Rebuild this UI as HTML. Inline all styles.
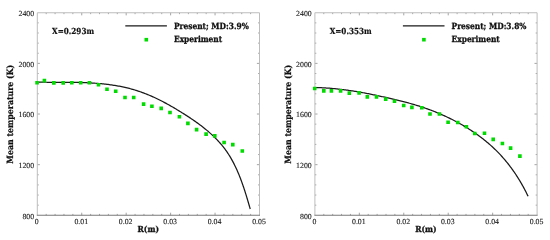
<!DOCTYPE html>
<html><head><meta charset="utf-8"><title>Mean temperature profiles</title>
<style>html,body{margin:0;padding:0;background:#fff;width:550px;height:240px;overflow:hidden}svg{display:block;text-rendering:geometricPrecision}</style>
</head><body>
<svg width="550" height="240" viewBox="0 0 550 240">
<rect width="100%" height="100%" fill="#fff"/>
<path d="M46.19,215.30V213.90M46.19,12.75V14.15M55.08,215.30V213.90M55.08,12.75V14.15M63.96,215.30V213.90M63.96,12.75V14.15M72.85,215.30V213.90M72.85,12.75V14.15M81.74,215.30V212.70M81.74,12.75V15.35M90.63,215.30V213.90M90.63,12.75V14.15M99.52,215.30V213.90M99.52,12.75V14.15M108.40,215.30V213.90M108.40,12.75V14.15M117.29,215.30V213.90M117.29,12.75V14.15M126.18,215.30V212.70M126.18,12.75V15.35M135.07,215.30V213.90M135.07,12.75V14.15M143.96,215.30V213.90M143.96,12.75V14.15M152.84,215.30V213.90M152.84,12.75V14.15M161.73,215.30V213.90M161.73,12.75V14.15M170.62,215.30V212.70M170.62,12.75V15.35M179.51,215.30V213.90M179.51,12.75V14.15M188.40,215.30V213.90M188.40,12.75V14.15M197.28,215.30V213.90M197.28,12.75V14.15M206.17,215.30V213.90M206.17,12.75V14.15M215.06,215.30V212.70M215.06,12.75V15.35M223.95,215.30V213.90M223.95,12.75V14.15M232.84,215.30V213.90M232.84,12.75V14.15M241.72,215.30V213.90M241.72,12.75V14.15M250.61,215.30V213.90M250.61,12.75V14.15M37.30,205.17H38.70M259.50,205.17H258.10M37.30,195.05H38.70M259.50,195.05H258.10M37.30,184.92H38.70M259.50,184.92H258.10M37.30,174.79H38.70M259.50,174.79H258.10M37.30,164.66H39.90M259.50,164.66H256.90M37.30,154.54H38.70M259.50,154.54H258.10M37.30,144.41H38.70M259.50,144.41H258.10M37.30,134.28H38.70M259.50,134.28H258.10M37.30,124.15H38.70M259.50,124.15H258.10M37.30,114.03H39.90M259.50,114.03H256.90M37.30,103.90H38.70M259.50,103.90H258.10M37.30,93.77H38.70M259.50,93.77H258.10M37.30,83.64H38.70M259.50,83.64H258.10M37.30,73.52H38.70M259.50,73.52H258.10M37.30,63.39H39.90M259.50,63.39H256.90M37.30,53.26H38.70M259.50,53.26H258.10M37.30,43.13H38.70M259.50,43.13H258.10M37.30,33.01H38.70M259.50,33.01H258.10M37.30,22.88H38.70M259.50,22.88H258.10" stroke="#9a9a9a" stroke-width="0.9" fill="none"/>
<path d="M37.30,215.30V12.75H259.50V215.30" stroke="#bdbdbd" stroke-width="1" fill="none"/>
<path d="M36.80,215.30H260.00" stroke="#7a7a7a" stroke-width="1.1" fill="none"/>
<text x="34.10" y="218.50" text-anchor="end" style="font-family:'Liberation Serif',serif;font-size:7.8px;fill:#1a1a1a;stroke:#1a1a1a;stroke-width:0.12px">800</text>
<text x="34.10" y="167.86" text-anchor="end" style="font-family:'Liberation Serif',serif;font-size:7.8px;fill:#1a1a1a;stroke:#1a1a1a;stroke-width:0.12px">1200</text>
<text x="34.10" y="117.23" text-anchor="end" style="font-family:'Liberation Serif',serif;font-size:7.8px;fill:#1a1a1a;stroke:#1a1a1a;stroke-width:0.12px">1600</text>
<text x="34.10" y="66.59" text-anchor="end" style="font-family:'Liberation Serif',serif;font-size:7.8px;fill:#1a1a1a;stroke:#1a1a1a;stroke-width:0.12px">2000</text>
<text x="34.10" y="15.95" text-anchor="end" style="font-family:'Liberation Serif',serif;font-size:7.8px;fill:#1a1a1a;stroke:#1a1a1a;stroke-width:0.12px">2400</text>
<text x="36.80" y="223.60" text-anchor="middle" style="font-family:'Liberation Serif',serif;font-size:7.8px;fill:#1a1a1a;stroke:#1a1a1a;stroke-width:0.12px">0</text>
<text x="81.24" y="223.60" text-anchor="middle" style="font-family:'Liberation Serif',serif;font-size:7.8px;fill:#1a1a1a;stroke:#1a1a1a;stroke-width:0.12px">0.01</text>
<text x="125.68" y="223.60" text-anchor="middle" style="font-family:'Liberation Serif',serif;font-size:7.8px;fill:#1a1a1a;stroke:#1a1a1a;stroke-width:0.12px">0.02</text>
<text x="170.12" y="223.60" text-anchor="middle" style="font-family:'Liberation Serif',serif;font-size:7.8px;fill:#1a1a1a;stroke:#1a1a1a;stroke-width:0.12px">0.03</text>
<text x="214.56" y="223.60" text-anchor="middle" style="font-family:'Liberation Serif',serif;font-size:7.8px;fill:#1a1a1a;stroke:#1a1a1a;stroke-width:0.12px">0.04</text>
<text x="259.00" y="223.60" text-anchor="middle" style="font-family:'Liberation Serif',serif;font-size:7.8px;fill:#1a1a1a;stroke:#1a1a1a;stroke-width:0.12px">0.05</text>
<path d="M37.40,82.12 L38.52,82.15 L39.64,82.17 L40.76,82.19 L41.88,82.20 L43.01,82.21 L44.14,82.23 L45.26,82.24 L46.39,82.25 L47.52,82.25 L48.66,82.26 L49.79,82.27 L50.92,82.27 L52.06,82.27 L53.20,82.28 L54.33,82.28 L55.47,82.28 L56.61,82.29 L57.75,82.29 L58.89,82.29 L60.04,82.29 L61.18,82.29 L62.32,82.30 L63.47,82.30 L64.61,82.31 L65.76,82.31 L66.90,82.32 L68.05,82.33 L69.20,82.34 L70.35,82.35 L71.49,82.36 L72.64,82.37 L73.79,82.39 L74.94,82.41 L76.09,82.43 L77.24,82.45 L78.39,82.48 L79.53,82.50 L80.68,82.53 L81.83,82.57 L82.98,82.60 L84.13,82.64 L85.28,82.69 L86.43,82.73 L87.57,82.78 L88.72,82.84 L89.87,82.90 L91.01,82.96 L92.16,83.02 L93.30,83.09 L94.45,83.17 L95.59,83.25 L96.74,83.33 L97.88,83.42 L99.02,83.52 L100.16,83.61 L101.30,83.72 L102.44,83.83 L103.58,83.94 L104.71,84.07 L105.85,84.19 L106.98,84.33 L108.12,84.47 L109.25,84.61 L110.38,84.76 L111.51,84.92 L112.64,85.09 L113.76,85.26 L114.89,85.44 L116.01,85.62 L117.13,85.82 L118.25,86.02 L119.37,86.23 L120.49,86.44 L121.60,86.67 L122.72,86.90 L123.83,87.14 L124.94,87.39 L126.04,87.65 L127.15,87.91 L128.25,88.19 L129.35,88.47 L130.45,88.76 L131.55,89.06 L132.64,89.37 L133.74,89.69 L134.83,90.02 L135.91,90.35 L137.00,90.70 L138.08,91.05 L139.16,91.41 L140.24,91.78 L141.31,92.16 L142.38,92.55 L143.45,92.94 L144.52,93.34 L145.58,93.75 L146.64,94.17 L147.70,94.59 L148.75,95.02 L149.80,95.46 L150.85,95.91 L151.89,96.36 L152.93,96.83 L153.97,97.29 L155.00,97.77 L156.03,98.25 L157.05,98.74 L158.08,99.23 L159.10,99.73 L160.11,100.24 L161.13,100.75 L162.14,101.27 L163.15,101.80 L164.15,102.33 L165.15,102.86 L166.15,103.41 L167.15,103.95 L168.15,104.50 L169.14,105.06 L170.13,105.62 L171.12,106.19 L172.11,106.76 L173.10,107.33 L174.08,107.91 L175.07,108.49 L176.05,109.08 L177.03,109.67 L178.01,110.26 L178.99,110.86 L179.97,111.46 L180.95,112.06 L181.92,112.67 L182.90,113.27 L183.87,113.89 L184.84,114.50 L185.82,115.12 L186.78,115.75 L187.75,116.37 L188.72,117.00 L189.68,117.64 L190.64,118.28 L191.59,118.92 L192.55,119.57 L193.50,120.22 L194.45,120.88 L195.39,121.54 L196.33,122.21 L197.26,122.88 L198.19,123.55 L199.12,124.23 L200.04,124.92 L200.96,125.61 L201.87,126.31 L202.78,127.01 L203.68,127.72 L204.57,128.43 L205.46,129.15 L206.34,129.88 L207.22,130.61 L208.09,131.35 L208.95,132.10 L209.81,132.85 L210.66,133.60 L211.50,134.37 L212.34,135.14 L213.16,135.92 L213.98,136.70 L214.79,137.49 L215.59,138.29 L216.39,139.10 L217.17,139.91 L217.95,140.74 L218.71,141.56 L219.47,142.40 L220.22,143.25 L220.96,144.10 L221.69,144.96 L222.40,145.83 L223.11,146.71 L223.81,147.59 L224.50,148.49 L225.17,149.39 L225.84,150.30 L226.49,151.22 L227.13,152.15 L227.76,153.09 L228.38,154.03 L228.99,154.99 L229.59,155.95 L230.18,156.92 L230.76,157.89 L231.33,158.88 L231.89,159.87 L232.43,160.86 L232.98,161.87 L233.51,162.88 L234.03,163.89 L234.54,164.91 L235.05,165.94 L235.54,166.97 L236.03,168.01 L236.51,169.05 L236.98,170.09 L237.45,171.14 L237.91,172.20 L238.35,173.26 L238.80,174.32 L239.23,175.39 L239.66,176.46 L240.08,177.53 L240.50,178.60 L240.91,179.68 L241.31,180.76 L241.71,181.85 L242.10,182.93 L242.48,184.02 L242.86,185.11 L243.24,186.20 L243.61,187.29 L243.98,188.38 L244.34,189.47 L244.69,190.56 L245.04,191.66 L245.39,192.75 L245.73,193.84 L246.07,194.93 L246.41,196.03 L246.74,197.12 L247.07,198.21 L247.40,199.30 L247.72,200.38 L248.04,201.47 L248.36,202.55 L248.68,203.63 L248.99,204.71 L249.30,205.79 L249.61,206.86 L249.92,207.94 L250.23,209.00" stroke="#1a1a1a" stroke-width="1.25" fill="none" stroke-linejoin="round"/>
<path d="M35.25,80.90h3.60v3.60h-3.60zM42.60,78.80h3.60v3.60h-3.60zM52.05,81.10h3.60v3.60h-3.60zM61.40,81.10h3.60v3.60h-3.60zM70.00,81.00h3.60v3.60h-3.60zM78.90,81.00h3.60v3.60h-3.60zM87.60,81.00h3.60v3.60h-3.60zM96.70,82.90h3.60v3.60h-3.60zM105.20,87.40h3.60v3.60h-3.60zM113.90,89.50h3.60v3.60h-3.60zM123.20,95.70h3.60v3.60h-3.60zM131.90,95.70h3.60v3.60h-3.60zM141.80,102.30h3.60v3.60h-3.60zM150.10,104.50h3.60v3.60h-3.60zM159.40,106.60h3.60v3.60h-3.60zM168.20,110.70h3.60v3.60h-3.60zM177.60,115.00h3.60v3.60h-3.60zM186.10,121.60h3.60v3.60h-3.60zM194.80,127.80h3.60v3.60h-3.60zM204.30,132.30h3.60v3.60h-3.60zM213.00,134.10h3.60v3.60h-3.60zM222.30,140.70h3.60v3.60h-3.60zM231.00,142.80h3.60v3.60h-3.60zM240.50,149.20h3.60v3.60h-3.60z" fill="#00dc00"/>
<text x="148.30" y="232.20" text-anchor="middle" style="font-family:'DejaVu Serif','Liberation Serif',serif;font-weight:bold;fill:#111;stroke:#111;stroke-width:0.15px;font-size:8.4px;stroke-width:0.3px" textLength="21.4" lengthAdjust="spacingAndGlyphs">R(m)</text>
<text transform="translate(13.40,114.20) rotate(-90)" text-anchor="middle" style="font-family:'DejaVu Serif','Liberation Serif',serif;font-weight:bold;fill:#111;stroke:#111;stroke-width:0.15px;font-size:8.7px;stroke-width:0.22px" textLength="98.9" lengthAdjust="spacingAndGlyphs">Mean temperature (K)</text>
<text x="52.10" y="34.00" style="font-family:'DejaVu Serif','Liberation Serif',serif;font-weight:bold;fill:#111;stroke:#111;stroke-width:0.15px;font-size:8.3px;stroke-width:0.2px" textLength="42.0" lengthAdjust="spacingAndGlyphs">X=0.293m</text>
<path d="M125.30,25.80H166.90" stroke="#1a1a1a" stroke-width="1.25"/>
<rect x="144.50" y="37.90" width="3.60" height="3.60" fill="#00dc00"/>
<text x="174.00" y="28.80" style="font-family:'DejaVu Serif','Liberation Serif',serif;font-weight:bold;fill:#111;stroke:#111;stroke-width:0.15px;font-size:8.5px;stroke-width:0.3px" textLength="74.8" lengthAdjust="spacingAndGlyphs">Present; MD:3.9%</text>
<text x="174.00" y="41.60" style="font-family:'DejaVu Serif','Liberation Serif',serif;font-weight:bold;fill:#111;stroke:#111;stroke-width:0.15px;font-size:8.5px;stroke-width:0.3px" textLength="48.2" lengthAdjust="spacingAndGlyphs">Experiment</text>
<path d="M323.79,215.30V213.90M323.79,12.75V14.15M332.68,215.30V213.90M332.68,12.75V14.15M341.56,215.30V213.90M341.56,12.75V14.15M350.45,215.30V213.90M350.45,12.75V14.15M359.34,215.30V212.70M359.34,12.75V15.35M368.23,215.30V213.90M368.23,12.75V14.15M377.12,215.30V213.90M377.12,12.75V14.15M386.00,215.30V213.90M386.00,12.75V14.15M394.89,215.30V213.90M394.89,12.75V14.15M403.78,215.30V212.70M403.78,12.75V15.35M412.67,215.30V213.90M412.67,12.75V14.15M421.56,215.30V213.90M421.56,12.75V14.15M430.44,215.30V213.90M430.44,12.75V14.15M439.33,215.30V213.90M439.33,12.75V14.15M448.22,215.30V212.70M448.22,12.75V15.35M457.11,215.30V213.90M457.11,12.75V14.15M466.00,215.30V213.90M466.00,12.75V14.15M474.88,215.30V213.90M474.88,12.75V14.15M483.77,215.30V213.90M483.77,12.75V14.15M492.66,215.30V212.70M492.66,12.75V15.35M501.55,215.30V213.90M501.55,12.75V14.15M510.44,215.30V213.90M510.44,12.75V14.15M519.32,215.30V213.90M519.32,12.75V14.15M528.21,215.30V213.90M528.21,12.75V14.15M314.90,205.17H316.30M537.10,205.17H535.70M314.90,195.05H316.30M537.10,195.05H535.70M314.90,184.92H316.30M537.10,184.92H535.70M314.90,174.79H316.30M537.10,174.79H535.70M314.90,164.66H317.50M537.10,164.66H534.50M314.90,154.54H316.30M537.10,154.54H535.70M314.90,144.41H316.30M537.10,144.41H535.70M314.90,134.28H316.30M537.10,134.28H535.70M314.90,124.15H316.30M537.10,124.15H535.70M314.90,114.03H317.50M537.10,114.03H534.50M314.90,103.90H316.30M537.10,103.90H535.70M314.90,93.77H316.30M537.10,93.77H535.70M314.90,83.64H316.30M537.10,83.64H535.70M314.90,73.52H316.30M537.10,73.52H535.70M314.90,63.39H317.50M537.10,63.39H534.50M314.90,53.26H316.30M537.10,53.26H535.70M314.90,43.13H316.30M537.10,43.13H535.70M314.90,33.01H316.30M537.10,33.01H535.70M314.90,22.88H316.30M537.10,22.88H535.70" stroke="#9a9a9a" stroke-width="0.9" fill="none"/>
<path d="M314.90,215.30V12.75H537.10V215.30" stroke="#bdbdbd" stroke-width="1" fill="none"/>
<path d="M314.40,215.30H537.60" stroke="#7a7a7a" stroke-width="1.1" fill="none"/>
<text x="311.70" y="218.50" text-anchor="end" style="font-family:'Liberation Serif',serif;font-size:7.8px;fill:#1a1a1a;stroke:#1a1a1a;stroke-width:0.12px">800</text>
<text x="311.70" y="167.86" text-anchor="end" style="font-family:'Liberation Serif',serif;font-size:7.8px;fill:#1a1a1a;stroke:#1a1a1a;stroke-width:0.12px">1200</text>
<text x="311.70" y="117.23" text-anchor="end" style="font-family:'Liberation Serif',serif;font-size:7.8px;fill:#1a1a1a;stroke:#1a1a1a;stroke-width:0.12px">1600</text>
<text x="311.70" y="66.59" text-anchor="end" style="font-family:'Liberation Serif',serif;font-size:7.8px;fill:#1a1a1a;stroke:#1a1a1a;stroke-width:0.12px">2000</text>
<text x="311.70" y="15.95" text-anchor="end" style="font-family:'Liberation Serif',serif;font-size:7.8px;fill:#1a1a1a;stroke:#1a1a1a;stroke-width:0.12px">2400</text>
<text x="314.40" y="223.60" text-anchor="middle" style="font-family:'Liberation Serif',serif;font-size:7.8px;fill:#1a1a1a;stroke:#1a1a1a;stroke-width:0.12px">0</text>
<text x="358.84" y="223.60" text-anchor="middle" style="font-family:'Liberation Serif',serif;font-size:7.8px;fill:#1a1a1a;stroke:#1a1a1a;stroke-width:0.12px">0.01</text>
<text x="403.28" y="223.60" text-anchor="middle" style="font-family:'Liberation Serif',serif;font-size:7.8px;fill:#1a1a1a;stroke:#1a1a1a;stroke-width:0.12px">0.02</text>
<text x="447.72" y="223.60" text-anchor="middle" style="font-family:'Liberation Serif',serif;font-size:7.8px;fill:#1a1a1a;stroke:#1a1a1a;stroke-width:0.12px">0.03</text>
<text x="492.16" y="223.60" text-anchor="middle" style="font-family:'Liberation Serif',serif;font-size:7.8px;fill:#1a1a1a;stroke:#1a1a1a;stroke-width:0.12px">0.04</text>
<text x="536.60" y="223.60" text-anchor="middle" style="font-family:'Liberation Serif',serif;font-size:7.8px;fill:#1a1a1a;stroke:#1a1a1a;stroke-width:0.12px">0.05</text>
<path d="M314.99,87.53 L316.05,87.55 L317.11,87.57 L318.16,87.60 L319.22,87.63 L320.27,87.67 L321.33,87.72 L322.38,87.77 L323.44,87.82 L324.49,87.88 L325.54,87.94 L326.60,88.01 L327.65,88.08 L328.70,88.16 L329.75,88.24 L330.80,88.32 L331.85,88.41 L332.90,88.50 L333.95,88.60 L335.00,88.70 L336.05,88.80 L337.09,88.91 L338.14,89.03 L339.19,89.14 L340.24,89.26 L341.28,89.39 L342.33,89.51 L343.37,89.65 L344.42,89.78 L345.46,89.92 L346.50,90.06 L347.55,90.21 L348.59,90.35 L349.63,90.51 L350.68,90.66 L351.72,90.82 L352.76,90.98 L353.80,91.14 L354.84,91.31 L355.88,91.48 L356.92,91.65 L357.96,91.83 L359.00,92.01 L360.04,92.19 L361.07,92.37 L362.11,92.56 L363.15,92.75 L364.19,92.94 L365.22,93.13 L366.26,93.33 L367.29,93.53 L368.33,93.73 L369.36,93.93 L370.40,94.14 L371.43,94.35 L372.47,94.55 L373.50,94.77 L374.53,94.98 L375.57,95.19 L376.60,95.41 L377.63,95.63 L378.66,95.85 L379.70,96.07 L380.73,96.30 L381.76,96.52 L382.79,96.75 L383.82,96.98 L384.85,97.20 L385.88,97.44 L386.91,97.67 L387.93,97.90 L388.96,98.13 L389.99,98.37 L391.02,98.61 L392.05,98.85 L393.07,99.09 L394.10,99.33 L395.13,99.57 L396.15,99.82 L397.18,100.06 L398.20,100.31 L399.22,100.57 L400.25,100.82 L401.27,101.08 L402.29,101.34 L403.31,101.60 L404.33,101.86 L405.35,102.13 L406.36,102.40 L407.38,102.67 L408.40,102.95 L409.41,103.23 L410.43,103.51 L411.44,103.80 L412.45,104.09 L413.46,104.38 L414.47,104.68 L415.48,104.98 L416.49,105.28 L417.49,105.59 L418.50,105.91 L419.50,106.22 L420.50,106.55 L421.50,106.87 L422.50,107.20 L423.50,107.54 L424.50,107.88 L425.49,108.22 L426.48,108.57 L427.47,108.93 L428.46,109.29 L429.45,109.65 L430.44,110.02 L431.42,110.39 L432.41,110.77 L433.39,111.16 L434.37,111.54 L435.35,111.93 L436.32,112.33 L437.30,112.73 L438.27,113.14 L439.24,113.55 L440.21,113.97 L441.18,114.39 L442.14,114.81 L443.11,115.24 L444.07,115.67 L445.03,116.11 L445.99,116.55 L446.94,117.00 L447.89,117.45 L448.85,117.91 L449.79,118.37 L450.74,118.84 L451.69,119.31 L452.63,119.78 L453.57,120.26 L454.51,120.75 L455.44,121.24 L456.37,121.73 L457.30,122.23 L458.23,122.73 L459.16,123.24 L460.08,123.76 L461.00,124.27 L461.91,124.80 L462.83,125.32 L463.74,125.86 L464.65,126.39 L465.55,126.94 L466.45,127.48 L467.35,128.04 L468.25,128.59 L469.14,129.16 L470.03,129.72 L470.91,130.30 L471.79,130.87 L472.67,131.46 L473.54,132.04 L474.42,132.64 L475.28,133.24 L476.15,133.84 L477.01,134.45 L477.86,135.06 L478.71,135.68 L479.56,136.30 L480.41,136.93 L481.25,137.57 L482.08,138.21 L482.91,138.85 L483.74,139.50 L484.57,140.16 L485.38,140.82 L486.20,141.49 L487.01,142.16 L487.81,142.84 L488.61,143.52 L489.41,144.21 L490.20,144.90 L490.99,145.60 L491.77,146.31 L492.55,147.02 L493.32,147.73 L494.08,148.45 L494.84,149.18 L495.60,149.91 L496.35,150.65 L497.09,151.39 L497.83,152.14 L498.57,152.90 L499.29,153.66 L500.02,154.42 L500.73,155.19 L501.45,155.97 L502.15,156.75 L502.85,157.54 L503.55,158.33 L504.23,159.13 L504.92,159.93 L505.59,160.74 L506.27,161.55 L506.93,162.37 L507.59,163.19 L508.25,164.01 L508.90,164.85 L509.54,165.68 L510.18,166.52 L510.81,167.36 L511.44,168.21 L512.06,169.07 L512.68,169.92 L513.29,170.78 L513.89,171.65 L514.49,172.52 L515.08,173.39 L515.67,174.27 L516.25,175.15 L516.83,176.04 L517.40,176.92 L517.97,177.82 L518.53,178.71 L519.08,179.61 L519.63,180.51 L520.17,181.42 L520.71,182.33 L521.24,183.24 L521.76,184.16 L522.28,185.07 L522.80,185.99 L523.31,186.92 L523.81,187.85 L524.31,188.78 L524.80,189.71 L525.28,190.64 L525.77,191.58 L526.24,192.52 L526.71,193.47 L527.17,194.41 L527.63,195.36 L528.08,196.31" stroke="#1a1a1a" stroke-width="1.25" fill="none" stroke-linejoin="round"/>
<path d="M312.90,86.70h3.60v3.60h-3.60zM322.00,89.10h3.60v3.60h-3.60zM329.60,89.10h3.60v3.60h-3.60zM338.80,89.10h3.60v3.60h-3.60zM347.50,91.30h3.60v3.60h-3.60zM357.30,91.10h3.60v3.60h-3.60zM365.50,95.10h3.60v3.60h-3.60zM374.70,95.10h3.60v3.60h-3.60zM383.90,97.30h3.60v3.60h-3.60zM392.70,99.50h3.60v3.60h-3.60zM401.90,103.70h3.60v3.60h-3.60zM410.10,105.60h3.60v3.60h-3.60zM420.00,105.90h3.60v3.60h-3.60zM428.20,112.20h3.60v3.60h-3.60zM437.60,112.20h3.60v3.60h-3.60zM446.30,120.45h3.60v3.60h-3.60zM455.95,120.70h3.60v3.60h-3.60zM464.60,124.90h3.60v3.60h-3.60zM472.95,131.70h3.60v3.60h-3.60zM482.70,131.50h3.60v3.60h-3.60zM491.40,137.60h3.60v3.60h-3.60zM500.60,141.70h3.60v3.60h-3.60zM508.80,146.30h3.60v3.60h-3.60zM518.10,154.30h3.60v3.60h-3.60z" fill="#00dc00"/>
<text x="425.90" y="232.20" text-anchor="middle" style="font-family:'DejaVu Serif','Liberation Serif',serif;font-weight:bold;fill:#111;stroke:#111;stroke-width:0.15px;font-size:8.4px;stroke-width:0.3px" textLength="21.4" lengthAdjust="spacingAndGlyphs">R(m)</text>
<text transform="translate(291.00,114.20) rotate(-90)" text-anchor="middle" style="font-family:'DejaVu Serif','Liberation Serif',serif;font-weight:bold;fill:#111;stroke:#111;stroke-width:0.15px;font-size:8.7px;stroke-width:0.22px" textLength="98.9" lengthAdjust="spacingAndGlyphs">Mean temperature (K)</text>
<text x="329.70" y="34.00" style="font-family:'DejaVu Serif','Liberation Serif',serif;font-weight:bold;fill:#111;stroke:#111;stroke-width:0.15px;font-size:8.3px;stroke-width:0.2px" textLength="42.0" lengthAdjust="spacingAndGlyphs">X=0.353m</text>
<path d="M402.90,25.80H444.50" stroke="#1a1a1a" stroke-width="1.25"/>
<rect x="422.10" y="37.90" width="3.60" height="3.60" fill="#00dc00"/>
<text x="451.60" y="28.80" style="font-family:'DejaVu Serif','Liberation Serif',serif;font-weight:bold;fill:#111;stroke:#111;stroke-width:0.15px;font-size:8.5px;stroke-width:0.3px" textLength="74.8" lengthAdjust="spacingAndGlyphs">Present; MD:3.8%</text>
<text x="451.60" y="41.60" style="font-family:'DejaVu Serif','Liberation Serif',serif;font-weight:bold;fill:#111;stroke:#111;stroke-width:0.15px;font-size:8.5px;stroke-width:0.3px" textLength="48.2" lengthAdjust="spacingAndGlyphs">Experiment</text>
</svg>
</body></html>
